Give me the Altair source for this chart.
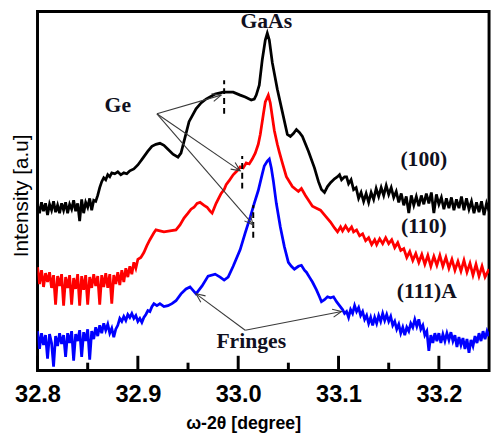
import math
import altair as alt
import pandas as pd

W, H = 459, 365
X_DOMAIN = [32.8, 33.25]
Y_DOMAIN = [0, 365]

MAJOR_TICKS = [32.8, 32.9, 33.0, 33.1, 33.2]
MINOR_TICKS = [32.85, 32.95, 33.05, 33.15]

SERIES = ["(100)", "(110)", "(111)A"]
COLORS = ["#000000", "#ff0000", "#0000ff"]

CURVE_100 = [
    (32.800, 168), (32.802, 160), (32.804, 171), (32.806, 162), (32.808, 170), (32.810, 158),
    (32.812, 169), (32.814, 163), (32.816, 172), (32.818, 161), (32.820, 168), (32.822, 160),
    (32.824, 170), (32.826, 163), (32.828, 171), (32.830, 160), (32.832, 169), (32.834, 164),
    (32.836, 173), (32.838, 162), (32.840, 170), (32.842, 152), (32.844, 174), (32.846, 160),
    (32.848, 171), (32.850, 166), (32.852, 175), (32.854, 163), (32.856, 173), (32.858, 172),
    (32.860, 178), (32.862, 186), (32.864, 192), (32.866, 196), (32.868, 194), (32.870, 199),
    (32.872, 197), (32.874, 201), (32.877, 200), (32.880, 202), (32.883, 199), (32.886, 201),
    (32.889, 200), (32.892, 203), (32.896, 205), (32.900, 209), (32.905, 216), (32.910, 223),
    (32.914, 228), (32.918, 230), (32.922, 231), (32.926, 229), (32.930, 225), (32.935, 220),
    (32.940, 217), (32.943, 221), (32.946, 233), (32.951, 253), (32.958, 266), (32.963, 272),
    (32.968, 276), (32.977, 281), (32.985, 283), (32.995, 283), (33.002, 280), (33.007, 278),
    (33.013, 275), (33.016, 276), (33.018, 280), (33.021, 290), (33.024, 316), (33.027, 336),
    (33.029, 343), (33.031, 336), (33.034, 313), (33.039, 286), (33.044, 263), (33.049, 240),
    (33.052, 238), (33.055, 241), (33.058, 245), (33.061, 242), (33.064, 238), (33.070, 223),
    (33.076, 206), (33.080, 192), (33.083, 184), (33.086, 181), (33.089, 187), (33.092, 191),
    (33.096, 195), (33.099, 197), (33.101, 199), (33.103, 194), (33.106, 197),
    (33.108, 197), (33.110, 190), (33.1125, 194), (33.115, 184), (33.1175, 186), (33.120, 175),
    (33.1225, 181), (33.125, 172), (33.1275, 180), (33.130, 171), (33.1325, 181), (33.135, 174),
    (33.1375, 185), (33.140, 177), (33.1425, 186), (33.145, 178), (33.1475, 188), (33.150, 179),
    (33.1525, 186), (33.155, 176), (33.1575, 182), (33.160, 171), (33.1625, 180), (33.165, 168),
    (33.1675, 177), (33.170, 160), (33.1725, 178), (33.175, 168), (33.1775, 177), (33.180, 167),
    (33.1825, 178), (33.185, 169), (33.1875, 180), (33.190, 170), (33.1925, 181), (33.195, 160),
    (33.1975, 179), (33.200, 169), (33.2025, 176), (33.205, 164), (33.2075, 175), (33.210, 165),
    (33.2125, 176), (33.215, 163), (33.2175, 174), (33.220, 165), (33.2225, 177), (33.225, 163),
    (33.2275, 175), (33.230, 164), (33.2325, 172), (33.235, 160), (33.2375, 171), (33.240, 161),
    (33.2425, 172), (33.245, 158), (33.2475, 170), (33.250, 162),
]

CURVE_110 = [
    (32.800, 105), (32.802, 88), (32.804, 102), (32.806, 85), (32.808, 99), (32.810, 90),
    (32.812, 100), (32.814, 84), (32.816, 97), (32.818, 67), (32.820, 96), (32.822, 86),
    (32.824, 98), (32.826, 66), (32.828, 95), (32.830, 84), (32.832, 97), (32.834, 67),
    (32.836, 94), (32.838, 83), (32.840, 98), (32.842, 66), (32.844, 96), (32.846, 82),
    (32.848, 97), (32.850, 67), (32.852, 95), (32.854, 84), (32.856, 98), (32.858, 86),
    (32.860, 96), (32.862, 67), (32.864, 97), (32.866, 85), (32.868, 99), (32.870, 84),
    (32.872, 98), (32.874, 68), (32.876, 97), (32.878, 88), (32.880, 100), (32.882, 87),
    (32.884, 102), (32.886, 90), (32.888, 104), (32.890, 95), (32.892, 106), (32.894, 98),
    (32.896, 110), (32.898, 104), (32.900, 113), (32.903, 115), (32.906, 120), (32.909, 127),
    (32.912, 133), (32.916, 140), (32.918, 143), (32.922, 142), (32.926, 141), (32.932, 142),
    (32.938, 143), (32.942, 148), (32.946, 155), (32.950, 160), (32.953, 164), (32.956, 166),
    (32.959, 170), (32.962, 171), (32.966, 168), (32.969, 166), (32.972, 162), (32.974, 160),
    (32.976, 165), (32.978, 170), (32.981, 176), (32.983, 180), (32.986, 184), (32.988, 189),
    (32.991, 193), (32.993, 196), (32.995, 199), (32.997, 201), (32.999, 203), (33.002, 207),
    (33.005, 206), (33.008, 211), (33.011, 210), (33.014, 215), (33.017, 221), (33.020, 230),
    (33.022, 240), (33.025, 260), (33.027, 273), (33.030, 280), (33.032, 272), (33.034, 258),
    (33.036, 244), (33.039, 230), (33.041, 222), (33.044, 211), (33.048, 197), (33.054, 187),
    (33.060, 182), (33.063, 185), (33.067, 178), (33.074, 167), (33.078, 165), (33.082, 163),
    (33.087, 157), (33.092, 151), (33.096, 145), (33.099, 141),
    (33.102, 146), (33.104, 142), (33.107, 147), (33.110, 142), (33.113, 146), (33.115, 141),
    (33.118, 143), (33.121, 137), (33.124, 139), (33.127, 132), (33.130, 135), (33.133, 128),
    (33.136, 133), (33.138, 128), (33.141, 134), (33.144, 129), (33.147, 135), (33.150, 129),
    (33.153, 133), (33.156, 125), (33.159, 130), (33.162, 122), (33.165, 124), (33.168, 115),
    (33.171, 121), (33.174, 112), (33.177, 119), (33.180, 110), (33.183, 118), (33.186, 108),
    (33.189, 117), (33.192, 106), (33.195, 116), (33.198, 107), (33.201, 117), (33.204, 106),
    (33.207, 115), (33.210, 104), (33.213, 113), (33.216, 102), (33.219, 111), (33.222, 101),
    (33.225, 112), (33.228, 100), (33.231, 109), (33.234, 97), (33.237, 108), (33.240, 96),
    (33.243, 106), (33.246, 95), (33.250, 103),
]

CURVE_111A = [
    (32.800, 40), (32.802, 22), (32.804, 38), (32.806, 26), (32.808, 36), (32.810, 12),
    (32.812, 37), (32.814, 28), (32.816, 4), (32.818, 35), (32.820, 25), (32.822, 38),
    (32.824, 27), (32.826, 36), (32.828, 14), (32.830, 38), (32.832, 28), (32.834, 40),
    (32.836, 10), (32.838, 37), (32.840, 30), (32.842, 41), (32.844, 14), (32.846, 39),
    (32.848, 30), (32.850, 42), (32.852, 11), (32.854, 40), (32.856, 32), (32.858, 44),
    (32.860, 35), (32.862, 46), (32.864, 38), (32.866, 48), (32.868, 41), (32.870, 47),
    (32.872, 38), (32.874, 43), (32.876, 34), (32.878, 42), (32.880, 46), (32.882, 53),
    (32.884, 50), (32.886, 55), (32.888, 51), (32.890, 57), (32.892, 54), (32.894, 58),
    (32.896, 53), (32.898, 56), (32.900, 50), (32.902, 53), (32.904, 49), (32.906, 54),
    (32.908, 57), (32.910, 61), (32.912, 60), (32.914, 65), (32.916, 68), (32.919, 66),
    (32.922, 68), (32.926, 65), (32.930, 66), (32.934, 68), (32.938, 71), (32.943, 78),
    (32.948, 83), (32.952, 85), (32.958, 78), (32.964, 86), (32.970, 96), (32.977, 98),
    (32.982, 95), (32.986, 92), (32.990, 95), (32.995, 106), (33.002, 123), (33.007, 140),
    (33.012, 156), (33.016, 170), (33.020, 183), (33.024, 200), (33.026, 208), (33.029, 213),
    (33.031, 215), (33.033, 206), (33.035, 193), (33.038, 170), (33.042, 146), (33.046, 126),
    (33.050, 110), (33.053, 106), (33.056, 103), (33.060, 106), (33.063, 107), (33.066, 102),
    (33.068, 100), (33.071, 95), (33.074, 90), (33.078, 82), (33.081, 75), (33.083, 70),
    (33.086, 72), (33.089, 75), (33.092, 74), (33.095, 75), (33.098, 70), (33.101, 66),
    (33.104, 62), (33.106, 58), (33.108, 60), (33.110, 54), (33.112, 62), (33.114, 58),
    (33.116, 66), (33.118, 60), (33.120, 64), (33.122, 56), (33.124, 60), (33.126, 52),
    (33.128, 56), (33.130, 48), (33.132, 54), (33.134, 46), (33.136, 54), (33.138, 48),
    (33.140, 56), (33.142, 50), (33.144, 58), (33.146, 51), (33.148, 57), (33.150, 50),
    (33.152, 55), (33.154, 46), (33.156, 50), (33.158, 42), (33.160, 47), (33.162, 38),
    (33.164, 44), (33.166, 36), (33.168, 44), (33.170, 40), (33.172, 48), (33.174, 44),
    (33.176, 52), (33.178, 45), (33.180, 52), (33.182, 42), (33.184, 46), (33.186, 36),
    (33.188, 40), (33.190, 20), (33.192, 36), (33.194, 28), (33.196, 38), (33.198, 30),
    (33.200, 38), (33.202, 28), (33.204, 37), (33.206, 30), (33.208, 38), (33.210, 31),
    (33.212, 39), (33.214, 30), (33.216, 36), (33.218, 24), (33.220, 34), (33.222, 26),
    (33.224, 33), (33.226, 22), (33.228, 32), (33.230, 18), (33.232, 31), (33.234, 25),
    (33.236, 35), (33.238, 28), (33.240, 38), (33.242, 30), (33.244, 40), (33.246, 32),
    (33.248, 40), (33.250, 35),
]

# Ge peak markers (dashed vertical bars)
GE_MARK_X = [32.986, 33.004, 33.015]
GE_MARK_Y1 = [261, 185, 135]
GE_MARK_Y2 = [295, 218, 168]

# Text annotations
LABELS = ["GaAs", "Ge", "(100)", "(110)", "(111)A", "Fringes"]
LABEL_X = [33.028, 32.880, 33.185, 33.185, 33.188, 33.013]
LABEL_Y = [355, 270, 215, 147, 81, 30]

# Arrows (start -> tip)
ARROW_X1 = [32.919, 32.919, 32.919, 33.007, 33.007]
ARROW_Y1 = [261, 261, 261, 41, 41]
ARROW_X2 = [32.983, 33.002, 33.015, 32.958, 33.103]
ARROW_Y2 = [280, 203, 148, 78, 60]

# ---------------------------------------------------------------
rows = []
for name, curve in zip(SERIES, [CURVE_100, CURVE_110, CURVE_111A]):
    for i, (xv, yv) in enumerate(curve):
        rows.append({"series": name, "x": xv, "y": yv, "i": i})
df = pd.DataFrame(rows)

xs = alt.Scale(domain=X_DOMAIN, nice=False, zero=False)
ys = alt.Scale(domain=Y_DOMAIN, nice=False, zero=False)

x_axis = alt.Axis(
    values=MAJOR_TICKS, format=".1f", labelFont="Liberation Sans", labelFontWeight="bold",
    labelFontSize=24, labelColor="black", labelPadding=12, labelFlush=False,
    ticks=False, tickSize=0, domain=False, grid=False,
    title="ω-2θ [degree]", titleFont="Liberation Sans", titleFontWeight="bold",
    titleFontSize=18, titleColor="black", titleX=209, titleY=54,
    titleBaseline="middle", titleAlign="center",
)
y_axis = alt.Axis(
    labels=False, ticks=False, domain=False, grid=False,
    title="Intensity [a.u]", titleFont="Liberation Sans", titleFontWeight="normal",
    titleFontSize=21, titleColor="black", titleAngle=270, titleX=-16, titleY=187,
    titleBaseline="middle", titleAlign="center",
)


def X(field):
    return alt.X(field, scale=xs, axis=x_axis, title="ω-2θ [degree]")


def Y(field):
    return alt.Y(field, scale=ys, axis=y_axis, title="Intensity [a.u]")


lines = alt.Chart(df).mark_line(strokeWidth=2.8, clip=True, strokeJoin="miter").encode(
    x=X("x:Q"),
    y=Y("y:Q"),
    color=alt.Color("series:N", scale=alt.Scale(domain=SERIES, range=COLORS), legend=None),
    order=alt.Order("i:Q"),
)

major = alt.Chart(pd.DataFrame({"x": MAJOR_TICKS})).mark_rule(color="black", strokeWidth=3).encode(
    x=X("x:Q"), y=alt.value(H), y2=alt.value(H - 15)
)
minor = alt.Chart(pd.DataFrame({"x": MINOR_TICKS})).mark_rule(color="black", strokeWidth=3).encode(
    x=X("x:Q"), y=alt.value(H), y2=alt.value(H - 8)
)

marks_df = pd.DataFrame({"x": GE_MARK_X, "y": GE_MARK_Y1, "y2": GE_MARK_Y2})
ge_marks = alt.Chart(marks_df).mark_rule(color="black", strokeWidth=2, strokeDash=[6, 4]).encode(
    x=X("x:Q"), y=Y("y:Q"), y2="y2:Q",
)

kx = W / (X_DOMAIN[1] - X_DOMAIN[0])
ky = H / (Y_DOMAIN[1] - Y_DOMAIN[0])
angles = []
for x1, y1, x2, y2 in zip(ARROW_X1, ARROW_Y1, ARROW_X2, ARROW_Y2):
    a = math.degrees(math.atan2(-(y2 - y1) * ky, (x2 - x1) * kx)) % 360
    angles.append(a)
arr_df = pd.DataFrame({"x": ARROW_X1, "y": ARROW_Y1, "x2": ARROW_X2, "y2": ARROW_Y2, "ang": angles})

arrow_lines = alt.Chart(arr_df).mark_rule(color="#3a3a3a", strokeWidth=1.1).encode(
    x=X("x:Q"), y=Y("y:Q"), x2="x2:Q", y2="y2:Q",
)
arrow_heads = alt.Chart(arr_df).mark_point(
    shape="M -1 -0.45 L 0 0 L -1 0.45", filled=False, size=324, strokeWidth=1.1,
    color="#3a3a3a", opacity=1,
).encode(
    x=X("x2:Q"), y=Y("y2:Q"),
    angle=alt.Angle("ang:Q", scale=None),
)

lab_df = pd.DataFrame({"x": LABEL_X, "y": LABEL_Y, "t": LABELS})
texts = alt.Chart(lab_df).mark_text(
    font="Liberation Serif", fontWeight="bold", fontSize=22, color="#101020", baseline="middle", align="center"
).encode(
    x=X("x:Q"), y=Y("y:Q"), text="t:N",
)

chart = alt.layer(lines, major, minor, ge_marks, arrow_lines, arrow_heads, texts).properties(
    width=W, height=H,
    padding={"left": 30, "top": 0, "right": 3, "bottom": 64},
    autosize=alt.AutoSizeParams(type="none"),
).configure_view(stroke="black", strokeWidth=3)

chart.save("out.html", embed_options={"renderer": "svg", "actions": False})
